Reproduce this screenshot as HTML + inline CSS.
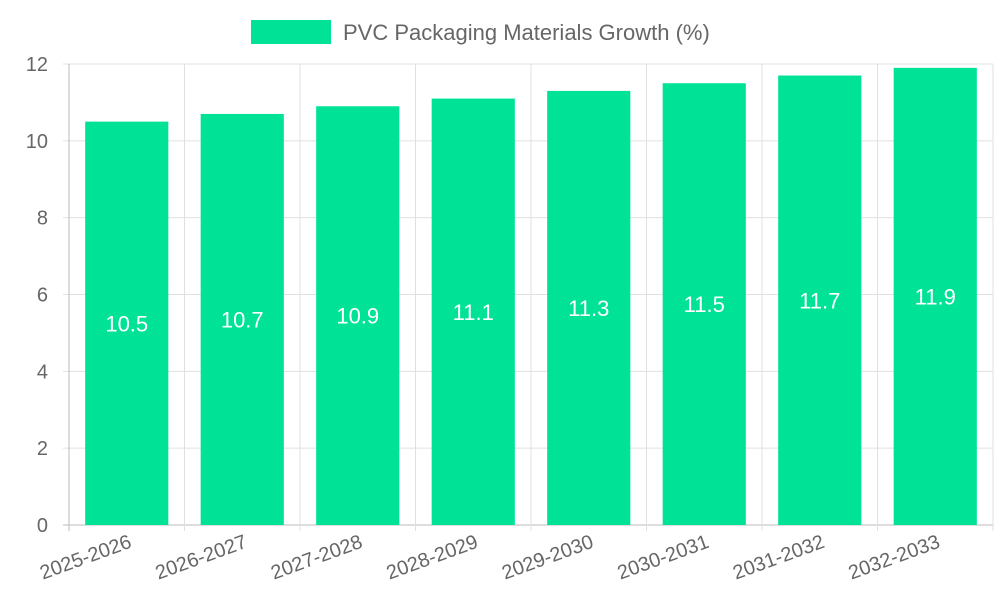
<!DOCTYPE html>
<html><head><meta charset="utf-8"><style>
body{margin:0;background:#fff;}
svg{display:block;font-family:"Liberation Sans",sans-serif;}
</style></head><body>
<svg id="chart" width="1000" height="600">
<g>
<rect x="251" y="20" width="80" height="24" fill="#00e396"/>
<text x="343" y="40" font-size="22" fill="#666">PVC Packaging Materials Growth (%)</text>
</g>
<g id="grid"></g>
<g id="bars"></g>
<g id="axes"></g>
</svg>
<script>
const categories=["2025-2026","2026-2027","2027-2028","2028-2029","2029-2030","2030-2031","2031-2032","2032-2033"];
const values=[10.5,10.7,10.9,11.1,11.3,11.5,11.7,11.9];
const yTicks=[0,2,4,6,8,10,12];
const NS="http://www.w3.org/2000/svg";
const L=69,R=993,T=64,B=525,yMax=12;
const bw=(R-L)/categories.length;
const y=v=>B-(v/yMax)*(B-T);
const x=i=>L+i*bw;
function mk(tag,attrs,parent){const e=document.createElementNS(NS,tag);for(const k in attrs)e.setAttribute(k,attrs[k]);parent.appendChild(e);return e;}
const grid=document.getElementById('grid'),bars=document.getElementById('bars'),axes=document.getElementById('axes');
yTicks.forEach(t=>{
 const ln=mk('line',{x1:L-6,x2:R,y1:y(t),y2:y(t),stroke:t===0?'#bbb':'#e0e0e0','stroke-width':1},grid);
 
 
 const tx=mk('text',{x:48,y:y(t)+7,'font-size':20,fill:'#666','text-anchor':'end'},axes);
 tx.textContent=t;
 
 
});
for(let i=0;i<=categories.length;i++){
 const ln=mk('line',{x1:x(i),x2:x(i),y1:T,y2:B+6,stroke:i===0?'#bbb':'#e0e0e0','stroke-width':1},grid);
 
 
}
categories.forEach((c,i)=>{
 const w=bw*0.72,bx=x(i)+(bw-w)/2;
 const r=mk('rect',{x:bx,y:y(values[i]),width:w,height:B-y(values[i]),fill:'#00e396'},bars);
 
 
 const vl=mk('text',{x:x(i)+bw/2,y:y(values[i]/2)+8,'font-size':22,fill:'#fff','text-anchor':'middle'},bars);
 vl.textContent=values[i];
 
 
 const cx=x(i)+bw/2+6,cy=B+22;
 const xl=mk('text',{x:cx,y:cy,'font-size':20,fill:'#666','text-anchor':'end',transform:`rotate(-20 ${cx} ${cy})`},axes);
 xl.textContent=c;
 
 
});
</script>
</body></html>
